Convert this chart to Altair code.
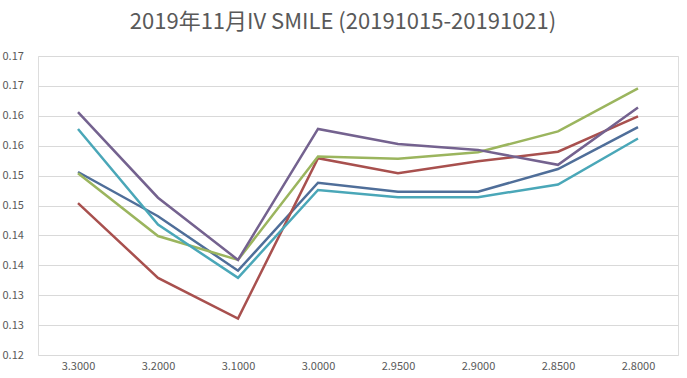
import altair as alt
import pandas as pd

strikes = ["3.3000", "3.2000", "3.1000", "3.0000", "2.9500", "2.9000", "2.8500", "2.8000"]
series_names = ["20191015", "20191016", "20191017", "20191018", "20191021"]
blue = [0.1506, 0.1432, 0.1341, 0.1488, 0.1473, 0.1473, 0.1511, 0.1581]
red = [0.1454, 0.1329, 0.1261, 0.1529, 0.1504, 0.1524, 0.1540, 0.1599]
green = [0.1504, 0.1399, 0.1359, 0.1532, 0.1528, 0.1539, 0.1574, 0.1646]
purple = [0.1606, 0.1463, 0.1359, 0.1578, 0.1553, 0.1543, 0.1518, 0.1614]
teal = [0.1578, 0.1418, 0.1329, 0.1476, 0.1464, 0.1464, 0.1485, 0.1562]
colors = ["#4F6E99", "#A8504E", "#9BB55E", "#74628F", "#4AA7B8"]
y_ticks = [0.12, 0.125, 0.13, 0.135, 0.14, 0.145, 0.15, 0.155, 0.16, 0.165, 0.17]
y_tick_labels = ["0.12", "0.13", "0.13", "0.14", "0.14", "0.15", "0.15", "0.16", "0.16", "0.17", "0.17"]
title = "2019年11月IV SMILE (20191015-20191021)"

rows = []
for name, vals in zip(series_names, [blue, red, green, purple, teal]):
    for k, v in zip(strikes, vals):
        rows.append({"strike": k, "iv": v, "series": name})
df = pd.DataFrame(rows)

label_arr = "[" + ",".join("'%s'" % s for s in y_tick_labels) + "]"
label_expr = label_arr + "[round((datum.value - 0.12) / 0.005)]"

font = "Noto Sans CJK SC"

chart = alt.Chart(df).mark_line(strokeWidth=2.5).encode(
    x=alt.X("strike:N", sort=strikes, title=None,
            scale=alt.Scale(type="point", padding=0.5),
            axis=alt.Axis(labelAngle=0, ticks=False, domain=False, grid=False,
                          labelColor="#595959", labelFontSize=11, labelFont=font,
                          labelPadding=5)),
    y=alt.Y("iv:Q", title=None,
            scale=alt.Scale(domain=[0.12, 0.17], nice=False, zero=False),
            axis=alt.Axis(values=y_ticks, labelExpr=label_expr, ticks=False, domain=False,
                          gridColor="#D9D9D9", gridWidth=1,
                          labelColor="#595959", labelFontSize=11, labelFont=font,
                          labelAlign="left", labelPadding=36)),
    color=alt.Color("series:N", sort=series_names,
                    scale=alt.Scale(domain=series_names, range=colors), legend=None),
).properties(
    width=640, height=299,
    title=alt.TitleParams(title, fontSize=22, font=font, fontWeight="normal",
                          color="#595959", anchor="middle", offset=16, dx=-15),
    autosize=alt.AutoSizeParams(type="none"),
    padding={"left": 38, "top": 56, "right": 9, "bottom": 23},
).configure_view(stroke=None).configure(background="white")

chart.save("out.html", embed_options={"renderer": "svg", "actions": False})
